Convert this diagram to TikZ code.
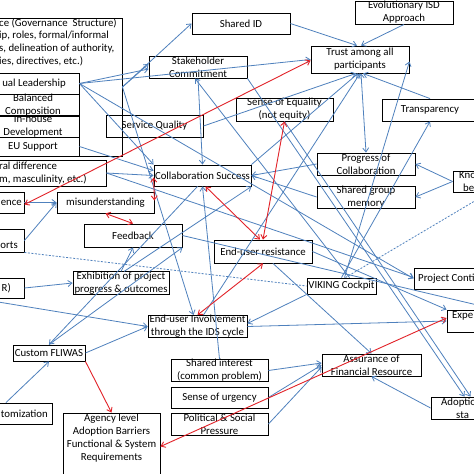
\documentclass[tikz,border=0pt]{standalone}
\usepackage{fontspec}
\setmainfont{Carlito}
\usetikzlibrary{arrows.meta, positioning}
\definecolor{linkblue}{RGB}{79,129,189}
\definecolor{linkred}{RGB}{226,34,40}

\tikzset{
  box/.style={draw=black, line width=0.9pt, inner sep=0pt, align=center, font=\fontsize{10.8}{12.8}\selectfont},
  txt/.style={inner sep=0pt, font=\fontsize{10.8}{12.8}\selectfont},
  link/.style={draw=linkblue, line width=0.8pt, ->},
  rlink/.style={draw=linkred, line width=0.9pt},
  dlink/.style={draw=linkblue, line width=0.8pt, dash pattern=on 2pt off 1.5pt}
}

\begin{document}
\begin{tikzpicture}[x=1pt, y=-1pt, >={Straight Barb[length=4pt,width=6pt]}]
    % Frame
    \useasboundingbox (0,0) rectangle (474,474);
    \clip (0,0) rectangle (474,474);
    \fill[white] (0,0) rectangle (474,474);

    % Governance block (cut at the left edge)
    \node[box, minimum width=182pt, minimum height=138pt] (gov) at (31,87) {};
    \node[txt, anchor=north west, align=left] (govtext) at (-1,18)
        {ce (Governance\ \ Structure)\\ip, roles, formal/informal\\s, delineation of authority,\\ies, directives, etc.)};
    \node[box, minimum width=92pt, minimum height=21pt] (lead) at (33,83.5) {};
    \node[txt, anchor=east] (leadtext) at (66,83.5) {ual Leadership};
    \node[box, minimum width=92pt, minimum height=22pt] (bal) at (33,105) {Balanced\\Composition};
    \node[box, minimum width=92pt, minimum height=21pt] (inh) at (33,126.5) {In-house\\Development};
    \node[box, minimum width=92pt, minimum height=19pt] (eu) at (33,146.5) {EU Support};

    % Left column (cut at the left edge)
    \node[box, minimum width=166pt, minimum height=26pt] (cult) at (23,173) {};
    \node[txt, anchor=west, align=left] (culttext) at (-1,173) {ral difference\\m, masculinity, etc.)};
    \node[box, minimum width=64pt, minimum height=21pt] (ence) at (-8,202.5) {};
    \node[txt, anchor=east] (encetext) at (22,202.5) {ence};
    \node[box, minimum width=64pt, minimum height=23pt] (orts) at (-8,240.5) {};
    \node[txt, anchor=east] (ortstext) at (18,245) {orts};
    \node[box, minimum width=64pt, minimum height=20pt] (rr) at (-8,288) {};
    \node[txt, anchor=east] (rrtext) at (11,288) {R)};
    \node[box, minimum width=92pt, minimum height=21pt] (tom) at (6,413.5) {};
    \node[txt, anchor=east] (tomtext) at (48,413.5) {tomization};
    \coordinate (offl) at (-20,299);

    % Middle boxes
    \node[box, minimum width=98pt, minimum height=21pt] (sid) at (241,23.5) {Shared ID};
    \node[box, minimum width=98pt, minimum height=22pt] (stake) at (198,67) {Stakeholder\\Commitment};
    \node[box, minimum width=97pt, minimum height=22pt] (sq) at (154.5,126) {Service Quality};
    \node[box, minimum width=97pt, minimum height=23pt] (sense) at (284.5,109.5) {Sense of Equality\\(not equity)};
    \node[box, minimum width=97pt, minimum height=21pt] (collab) at (202.5,175.5) {Collaboration Success};
    \node[box, minimum width=97pt, minimum height=21pt] (mis) at (105.5,202.5) {misunderstanding};
    \node[box, minimum width=98pt, minimum height=23pt] (fb) at (133,235.5) {Feedback};
    \node[box, minimum width=98pt, minimum height=23pt] (res) at (263,251.5) {End-user resistance};
    \node[box, minimum width=96pt, minimum height=22pt] (exh) at (121,283) {Exhibition of project\\progress \& outcomes};
    \node[box, minimum width=69pt, minimum height=16pt] (vik) at (341.5,286) {VIKING Cockpit};
    \node[box, minimum width=99pt, minimum height=21pt] (inv) at (197.5,326.5) {End-user Involvement\\through the IDS cycle};
    \node[box, minimum width=72pt, minimum height=16pt] (fli) at (49,353) {Custom FLIWAS};
    \node[box, minimum width=97pt, minimum height=67pt] (agency) at (111.5,446.5) {};
    \node[txt, anchor=north, align=center, font=\fontsize{10.8}{13}\selectfont] (agencytext) at (111.5,414)
        {Agency level\\Adoption Barriers\\Functional \& System\\Requirements};
    \node[box, minimum width=97pt, minimum height=21pt] (sint) at (219.5,370.5) {Shared interest\\(common problem)};
    \node[box, minimum width=97pt, minimum height=21pt] (urg) at (219.5,397.5) {Sense of urgency};
    \node[box, minimum width=97pt, minimum height=22pt] (pol) at (219.5,424) {Political \& Social\\Pressure};

    % Right boxes (some cut at the right edge)
    \node[box, minimum width=98pt, minimum height=23pt] (evo) at (404,12.5) {Evolutionary ISD\\Approach};
    \node[box, minimum width=98pt, minimum height=27pt] (trust) at (360,59.5) {Trust among all\\participants};
    \node[box, minimum width=96pt, minimum height=22pt] (transp) at (430,110) {Transparency};
    \node[box, minimum width=98pt, minimum height=22pt] (prog) at (366,164) {Progress of\\Collaboration};
    \node[box, minimum width=98pt, minimum height=20pt] (sgm) at (366,197) {Shared group\\memory};
    \node[box, minimum width=98pt, minimum height=21pt] (kno) at (502,181.5) {};
    \node[txt, anchor=west, align=left] (knotext) at (459,181.5) {Kno\\\hspace*{4pt}be};
    \node[box, minimum width=98pt, minimum height=21pt] (pc) at (463,278.5) {};
    \node[txt, anchor=west] (pctext) at (418,278.5) {Project Conti};
    \node[box, minimum width=98pt, minimum height=22pt] (expe) at (496,321) {};
    \node[txt, anchor=west] (expetext) at (452,316) {Expe};
    \node[box, minimum width=99pt, minimum height=22pt] (ass) at (371.5,365) {Assurance of\\Financial Resource};
    \node[box, minimum width=98pt, minimum height=22pt] (adop) at (480,408) {};
    \node[txt, anchor=west, align=left] (adoptext) at (441,408.5) {Adoptio\\\hspace*{15pt}sta};
    \coordinate (offr) at (490,308);
    \coordinate (offd) at (500,186);

    % Blue links from the governance block
    \draw[link] (gov.east) -- (sid.west);
    \draw[link] (gov.east) -- ([yshift=3pt]stake.west);
    \draw[link] (gov.east) -- ([xshift=-4pt]inv.north);
    \draw[link] (lead.east) -- ([yshift=-2pt]stake.west);
    \draw[link] (lead.east) -- (trust.west);
    \draw[link] (lead.east) -- (collab.north west);
    \draw[link] (lead.east) -- (pc.west);
    \draw[link] (eu.east) -- ([yshift=5pt]collab.west);
    \draw[link] (cult.east) -- (collab.west);
    \draw[link] (cult.east) -- ([yshift=1pt]pc.west);

    % Blue links into trust
    \draw[link] (sid.east) -- ([xshift=-3pt]trust.north);
    \draw[link] (evo.south) -- ([xshift=1pt]trust.north);
    \draw[link] (sq.east) -- ([xshift=-4pt]trust.south);
    \draw[link] (collab.north east) -- ([xshift=-2pt]trust.south);
    \draw[link] ([xshift=6pt]inv.north) -- (trust.south);
    \draw[link] (transp.north) -- ([xshift=3pt]trust.south);
    \draw[link] ([xshift=3pt]vik.north) -- ([yshift=-2pt]trust.east);
    \draw[link, <->] ([xshift=1pt]trust.south) -- (prog.north);

    % Blue links around collaboration success
    \draw[link] ([xshift=8pt]vik.north) -- ([xshift=-3pt]stake.south);
    \draw[link] (stake.south) -- (collab.north);
    \draw[link] (sint.north) -- (collab.south);
    \draw[link] (prog.west) -- (collab.east);
    \draw[link] (sgm.west) -- (collab.east);
    \draw[link] (kno.west) -- (prog.east);
    \draw[link] (kno.west) -- (sgm.east);
    \draw[link] (exh.north) -- (fb.south);
    \draw[link] ([xshift=3pt]exh.north) -- (collab.south east);
    \draw[link] ([xshift=-5pt]collab.south) -- (fli.north);
    \draw[link] (fli.north) -- (fb.south east);

    % Blue links on the left
    \draw[link] (ence.east) -- (mis.west);
    \draw[link] (orts.east) -- (mis.west);
    \draw[link] (rr.east) -- (exh.west);
    \draw[link] (offl) -- (inv.west);
    \draw[link] (fli.east) -- (inv.west);
    \draw[link] (tom.north) -- (fli.south);

    % Blue links on the right
    \draw[link] (vik.north) -- (transp.south);
    \draw[link] (vik.south west) -- ([yshift=3pt]inv.east);
    \draw[link] (inv.east) -- (expe.west);
    \draw[link] (res.east) -- (expe.north west);
    \draw[link] ([xshift=10pt]res.south) -- (ass.north);
    \draw[link] (sint.east) -- ([yshift=2pt]ass.west);
    \draw[link] (urg.east) -- (ass.west);
    \draw[link] (pol.east) -- ([yshift=-2pt]ass.west);
    \draw[link] (adop.west) -- (ass.south);
    \draw[link] (sense.south) -- ([xshift=40pt]adop.north west);
    \draw[link] (stake.south east) -- ([xshift=34pt]adop.north west);
    \draw[link] (fb.east) -- (offr);

    % Dashed links
    \draw[dlink] (orts.south east) -- (vik.west);
    \draw[dlink] ([xshift=4pt]vik.north) -- (offd);

    % Red links
    \draw[rlink, <->] ([yshift=-1pt]trust.west) -- ([yshift=-2pt]ence.east);
    \draw[rlink, <->] ([yshift=-2pt]collab.west) -- ([yshift=2pt]mis.east);
    \draw[rlink, <->] (mis.south) -- (fb.north);
    \draw[rlink, <->] (sense.south) -- (res.north);
    \draw[rlink, <->] ([xshift=3pt]collab.south) -- ([xshift=-3pt]res.north);
    \draw[rlink, <->] (res.south) -- (inv.north);
    \draw[rlink, <->] (agency.east) -- ([yshift=3pt]expe.west);
    \draw[rlink, ->] (fli.south east) -- (agency.north);
\end{tikzpicture}
\end{document}
